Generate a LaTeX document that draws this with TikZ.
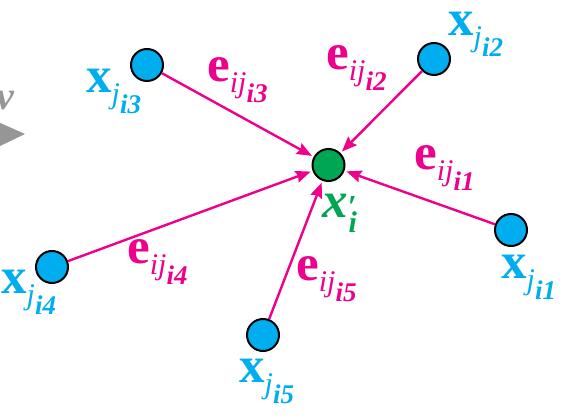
\documentclass[tikz,border=0pt]{standalone}
\usepackage{fontspec}
\setmainfont{Liberation Serif}
\usetikzlibrary{arrows.meta}
\definecolor{cb}{RGB}{0,174,239}
\definecolor{cm}{RGB}{236,0,140}
\definecolor{cg}{RGB}{0,166,81}
\definecolor{cgr}{RGB}{150,150,150}
\newcommand\xlab[1]{{\fontsize{51}{51}\selectfont\bfseries x}\raisebox{-11pt}{\fontsize{30}{30}\selectfont\itshape j\raisebox{-10pt}{\fontsize{27}{27}\selectfont\bfseries\itshape i#1}}}
\newcommand\elab[1]{{\fontsize{51}{51}\selectfont\bfseries e}\raisebox{-11pt}{\fontsize{30}{30}\selectfont\itshape ij\raisebox{-10pt}{\fontsize{27}{27}\selectfont\bfseries\itshape i#1}}}
\begin{document}
\begin{tikzpicture}[x=1pt,y=-1pt,
  nb/.style={circle,draw=black,line width=2pt,fill=cb,minimum size=32pt,inner sep=0pt},
  nc/.style={circle,draw=black,line width=2pt,fill=cg,minimum size=32pt,inner sep=0pt},
  lbx/.style={anchor=base west,inner sep=0pt,text=cb},
  lbe/.style={anchor=base west,inner sep=0pt,text=cm},
  edge/.style={draw=cm,line width=2.4pt,-{Stealth[length=15pt,width=12pt,inset=2pt]},shorten >=2pt}]
\clip (0,0) rectangle (561,419);
\useasboundingbox (0,0) rectangle (561,419);
% gray arrow fragment
\fill[cgr] (-2,122) -- (25,134) -- (-2,147) -- cycle;
\node[anchor=base west,inner sep=0pt,text=cgr] (v) at (-4,110) {\fontsize{40}{40}\selectfont\bfseries\itshape v};
% nodes
\node[nc] (c) at (328.5,165) {};
\node[nb] (j1) at (511,230) {};
\node[nb] (j2) at (434,59) {};
\node[nb] (j3) at (147,65) {};
\node[nb] (j4) at (52,267) {};
\node[nb] (j5) at (263,335) {};
% edges
\draw[edge] (j1) -- (c);
\draw[edge] (j2) -- (c);
\draw[edge] (j3) -- (c);
\draw[edge] (j4) -- (c);
\draw[edge] (j5) -- (c);
% labels
\node[lbx] (lx1) at (501,278) {\xlab{1}};
\node[lbx] (lx2) at (448,36) {\xlab{2}};
\node[lbx] (lx3) at (86,93) {\xlab{3}};
\node[lbx] (lx4) at (1,293) {\xlab{4}};
\node[lbx] (lx5) at (239,382) {\xlab{5}};
\node[lbe] (le1) at (414,170) {\elab{1}};
\node[lbe] (le2) at (326,70) {\elab{2}};
\node[lbe] (le3) at (207,82) {\elab{3}};
\node[lbe] (le4) at (127,263) {\elab{4}};
\node[lbe] (le5) at (296,280) {\elab{5}};
\node[anchor=base west,inner sep=0pt,text=cg] (lc) at (322,218) {\fontsize{51}{51}\selectfont\bfseries\itshape x\rlap{\fontsize{32}{32}\selectfont ′}\kern1pt\raisebox{-15pt}{\fontsize{30}{30}\selectfont i}};
\end{tikzpicture}
\end{document}
